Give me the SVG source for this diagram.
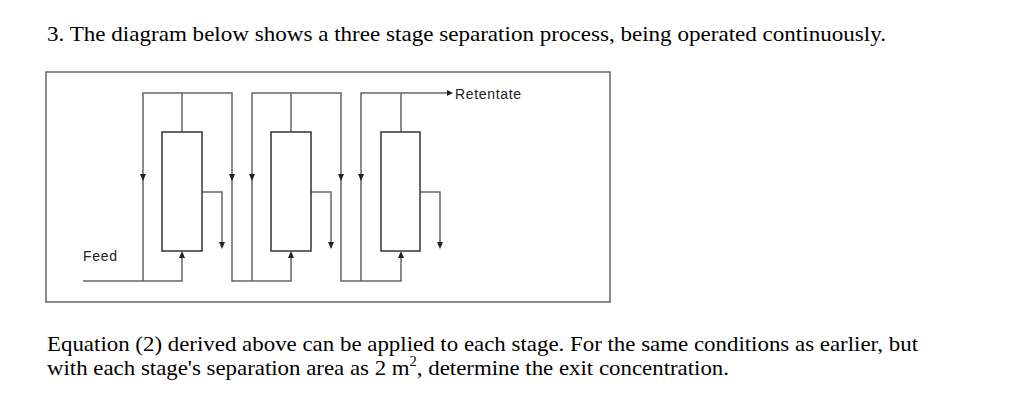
<svg xmlns="http://www.w3.org/2000/svg" width="1024" height="400" viewBox="0 0 1024 400">
<style>
.t{font-family:"Liberation Serif",serif;font-size:22px;fill:#000}
.s{font-family:"Liberation Sans",sans-serif;font-size:14px;fill:#222}
.l{fill:none;stroke:#666;stroke-width:1.5}
.b{fill:#fff;stroke:#333;stroke-width:1.5}
</style>
<text class="t" x="47" y="41" textLength="839" lengthAdjust="spacingAndGlyphs">3.  The diagram below shows a three stage separation process, being operated continuously.</text>
<rect x="46" y="72" width="564" height="230" fill="none" stroke="#666" stroke-width="1.5"/>
<g id="connectors">
<path class="l" d="M83,281H182V258"/>
<path class="l" d="M143,281V93H232V281H291V258"/>
<path class="l" d="M182,93V132"/>
<path class="l" d="M252,281V93H341V281H401V258"/>
<path class="l" d="M291,93V132"/>
<path class="l" d="M361,281V93H447"/>
<path class="l" d="M401,93V132"/>
<path class="l" d="M202,192H222V246"/>
<path class="l" d="M311,192H331V246"/>
<path class="l" d="M420,192H440V246"/>
<g fill="#222">
<path d="M447,90L453,93L447,96z"/>
<path d="M219,242L225,242L222,249z"/><path d="M328,242L334,242L331,249z"/><path d="M437,242L443,242L440,249z"/>
<path d="M140,174L146,174L143,181z"/><path d="M229,174L235,174L232,181z"/><path d="M249,174L255,174L252,181z"/><path d="M338,174L344,174L341,181z"/><path d="M358,174L364,174L361,181z"/>
<path d="M179,258L185,258L182,251z"/><path d="M288,258L294,258L291,251z"/><path d="M398,258L404,258L401,251z"/>
</g>
</g>
<g id="stage1"><rect class="b" x="162" y="132" width="40" height="119"/></g>
<g id="stage2"><rect class="b" x="271" y="132" width="40" height="119"/></g>
<g id="stage3"><rect class="b" x="381" y="132" width="39" height="119"/></g>
<text class="s" x="455" y="99" textLength="66">Retentate</text>
<text class="s" x="83" y="261" textLength="34">Feed</text>
<text class="t" x="47" y="351" textLength="871" lengthAdjust="spacingAndGlyphs">Equation (2) derived above can be applied to each stage. For the same conditions as earlier, but</text>
<text class="t" x="47" y="375" textLength="682" lengthAdjust="spacingAndGlyphs">with each stage's separation area as 2 m<tspan dy="-9" font-size="14">2</tspan><tspan dy="9">, determine the exit concentration.</tspan></text>
</svg>
